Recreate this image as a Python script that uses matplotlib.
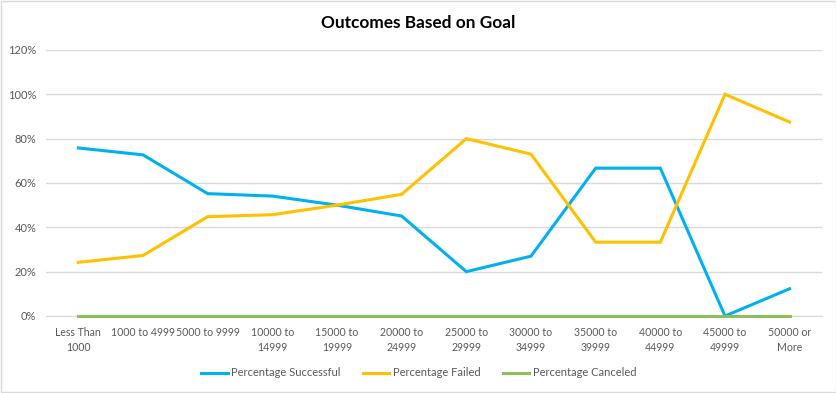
import matplotlib.pyplot as plt
from matplotlib.ticker import PercentFormatter

# chart data
goal_ranges = ["Less Than\n1000", "1000 to 4999", "5000 to 9999", "10000 to\n14999",
               "15000 to\n19999", "20000 to\n24999", "25000 to\n29999", "30000 to\n34999",
               "35000 to\n39999", "40000 to\n44999", "45000 to\n49999", "50000 or\nMore"]
pct_successful = [0.758, 0.727, 0.552, 0.541, 0.500, 0.451, 0.200, 0.270, 0.667, 0.667, 0.0, 0.123]
pct_failed = [0.242, 0.273, 0.448, 0.457, 0.500, 0.549, 0.800, 0.730, 0.333, 0.333, 1.0, 0.875]
pct_canceled = [0.0] * 12

plt.rcParams['font.family'] = ['Lato', 'DejaVu Sans']

fig = plt.figure(figsize=(8.37, 3.93), dpi=100)
ax = fig.add_axes([46 / 837, (393 - 316) / 393, (822 - 46) / 837, (316 - 50) / 393])

x = list(range(len(goal_ranges)))
ax.plot(x, pct_successful, color="#00B0F0", lw=2.2, label="Percentage Successful",
        solid_joinstyle="miter", zorder=3, clip_on=False)
ax.plot(x, pct_failed, color="#FFC000", lw=2.2, label="Percentage Failed",
        solid_joinstyle="miter", zorder=3, clip_on=False)
ax.plot(x, pct_canceled, color="#8CBE5E", lw=2.2, label="Percentage Canceled",
        zorder=4, clip_on=False)

ax.set_xlim(-0.5, len(goal_ranges) - 0.5)
ax.set_ylim(0, 1.2)
ax.set_yticks([0, 0.2, 0.4, 0.6, 0.8, 1.0, 1.2])
ax.yaxis.set_major_formatter(PercentFormatter(1.0, decimals=0))
ax.set_xticks(x)
ax.set_xticklabels(goal_ranges, linespacing=1.45)
ax.grid(axis="y", color="#D9D9D9", lw=1)
ax.set_axisbelow(True)
for side in ["top", "right", "left"]:
    ax.spines[side].set_visible(False)
ax.spines["bottom"].set_color("#D9D9D9")
ax.tick_params(axis="both", length=0, labelsize=8, labelcolor="#595959")
ax.tick_params(axis="x", pad=8, labelsize=7.6)
ax.tick_params(axis="y", pad=7)

fig.suptitle("Outcomes Based on Goal", x=0.5, y=1 - 23 / 393, va="center",
             fontsize=12.4, fontweight="bold")

fig.legend(loc="center", bbox_to_anchor=(0.5, 1 - 373 / 393), ncol=3, frameon=False,
           fontsize=8, handlelength=2.4, handletextpad=0.3, columnspacing=2.0,
           labelcolor="#595959")

# thin gray border round the chart
fig.patches.append(plt.Rectangle((0.001, 0.002), 0.998, 0.996, transform=fig.transFigure,
                                 fill=False, edgecolor="#D9D9D9", lw=1))

plt.savefig("out.png", dpi=100)
plt.close()
